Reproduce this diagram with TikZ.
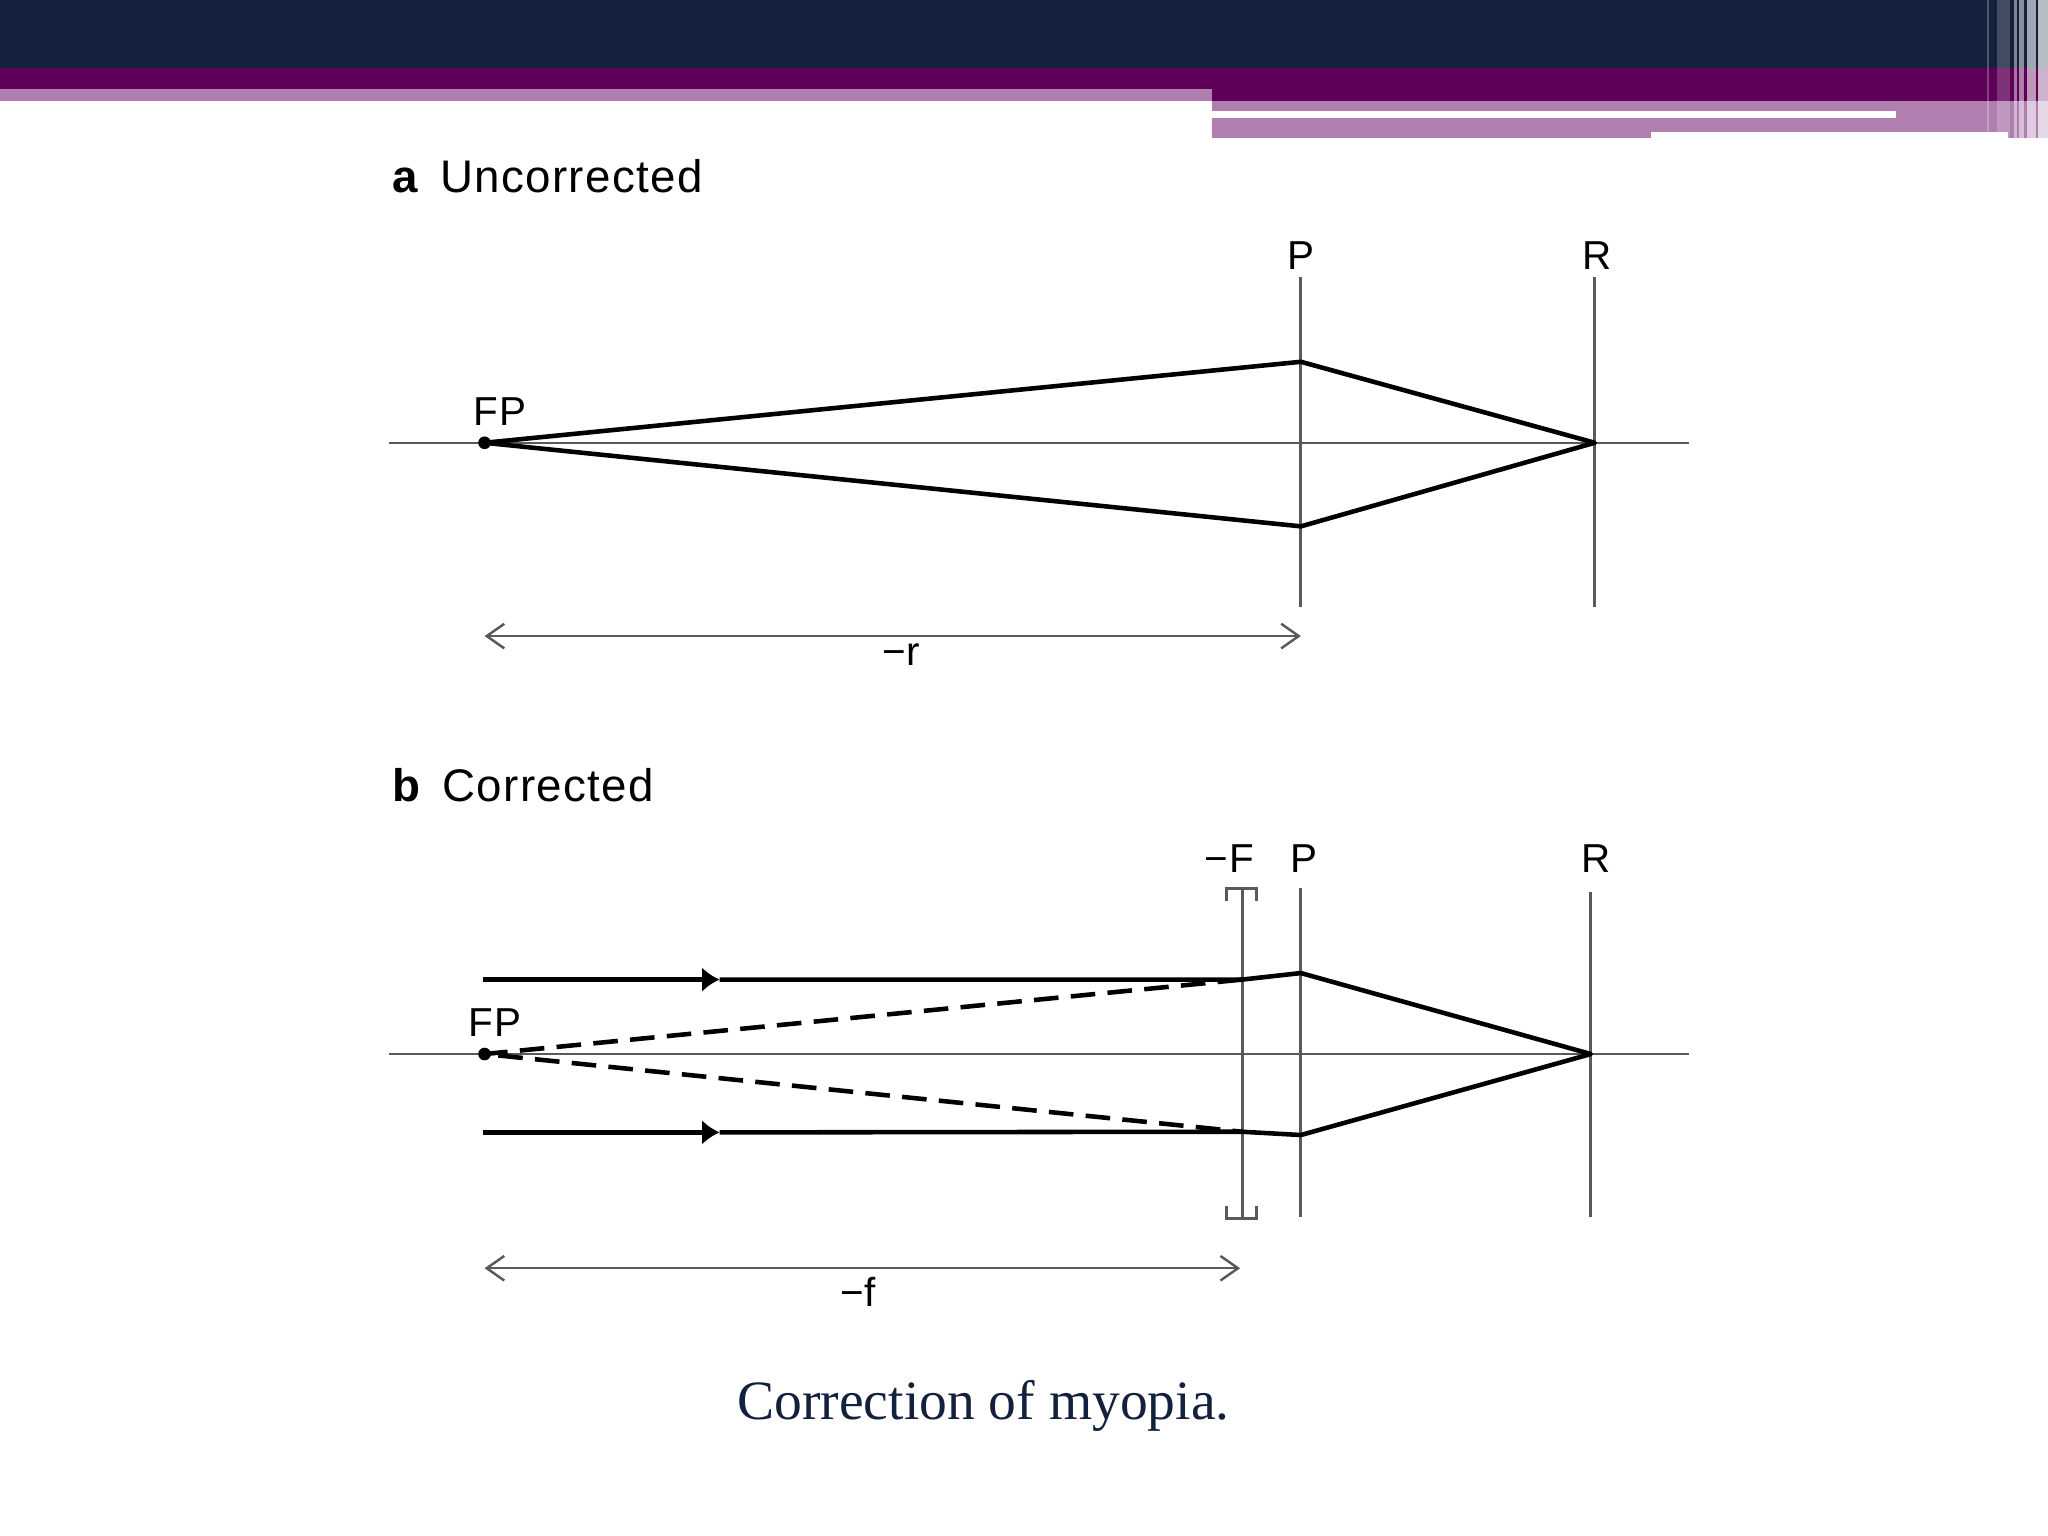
\documentclass[tikz,border=0pt]{standalone}
\usepackage{fontspec}
\setmainfont{Liberation Serif}
\newfontfamily\diagfont[LetterSpace=3]{Liberation Sans}
\usetikzlibrary{arrows.meta}

\definecolor{bannerNavy}{HTML}{13213C}
\definecolor{bannerPurple}{HTML}{5E0058}
\definecolor{bannerLilac}{HTML}{B07FB0}
\definecolor{planeGray}{HTML}{5A5A5A}

\newcommand{\rayLineWidth}{1.3}
\newcommand{\planeLineWidth}{0.9}
\newcommand{\axisLineWidth}{0.6}
\newcommand{\dimLineWidth}{0.7}
\newcommand{\posFP}{371}
\newcommand{\posLens}{951}
\newcommand{\posP}{996}
\newcommand{\posRa}{1221}
\newcommand{\posRb}{1218}
\newcommand{\axisA}{339}
\newcommand{\axisB}{807}

\tikzset{
  ray/.style={line width=\rayLineWidth, black, line join=round},
  dashray/.style={ray, dash pattern=on 7pt off 3.5pt},
  plane/.style={line width=\planeLineWidth, planeGray},
  axisline/.style={line width=\axisLineWidth, planeGray},
  dimline/.style={line width=\dimLineWidth, black!65,
    {Straight Barb[length=5pt,width=7pt]}-{Straight Barb[length=5pt,width=7pt]}},
  dot/.style={circle, fill=black, inner sep=0pt, minimum size=3.6pt},
  lbl/.style={font=\diagfont\fontsize{11.5}{13}\selectfont, inner sep=0pt},
  heading/.style={font=\diagfont\fontsize{13}{15}\selectfont, inner sep=0pt, anchor=base west},
}

\begin{document}
\begin{tikzpicture}[x=0.013061cm, y=-0.013061cm]
        \useasboundingbox (0,0) rectangle (1568,1176);

        % Banner
        \fill[bannerNavy] (0,0) rectangle (1568,52);
        \fill[bannerPurple] (0,52) rectangle (1568,77);
        \fill[bannerLilac] (0,68) rectangle (928,77);
        \fill[bannerLilac] (928,77) rectangle (1568,106);
        \fill[white] (928,85) rectangle (1452,90);
        \fill[white] (1264,101) rectangle (1537,106);
        \fill[white, opacity=0.25] (1521,0) rectangle (1523,106);
        \fill[white, opacity=0.2] (1529,0) rectangle (1539,106);
        \fill[white, opacity=0.45] (1542,0) rectangle (1544,106);
        \fill[white, opacity=0.5] (1546,0) rectangle (1550,106);
        \fill[white, opacity=0.6] (1552,0) rectangle (1559,106);
        \fill[white, opacity=0.7] (1560,0) rectangle (1568,106);

        % Uncorrected eye
        \node[heading] (headA) at (300,147.5) {\textbf{a}\hspace{0.45em}Uncorrected};
        \coordinate (axA-l) at (298,\axisA);
        \coordinate (axA-r) at (1293,\axisA);
        \draw[axisline] (axA-l) -- (axA-r);
        \node[lbl] (pA-lbl) at (\posP,196) {P};
        \node[lbl] (rA-lbl) at (\posRa+2,196) {R};
        \coordinate (pA-t) at (\posP,212);
        \coordinate (pA-b) at (\posP,465);
        \coordinate (rA-t) at (\posRa,212);
        \coordinate (rA-b) at (\posRa,465);
        \draw[plane] (pA-t) -- (pA-b);
        \draw[plane] (rA-t) -- (rA-b);
        \node[dot] (fpA) at (\posFP,\axisA) {};
        \node[lbl] (fpA-lbl) at (383,315) {FP};

        % Draw rays
        \coordinate (pA-u) at (\posP,277);
        \coordinate (pA-d) at (\posP,403);
        \coordinate (rA) at (\posRa,\axisA);
        \draw[ray] (fpA.center) -- (pA-u) -- (rA) -- (pA-d) -- cycle;

        % Far point distance
        \coordinate (dimA-l) at (\posFP,487);
        \coordinate (dimA-r) at (\posP,487);
        \draw[dimline] (dimA-l) -- (dimA-r);
        \node[lbl] (dimA-lbl) at (690,501) {−r};

        % Corrected eye
        \node[heading] (headB) at (300,614) {\textbf{b}\hspace{0.45em}Corrected};
        \coordinate (axB-l) at (298,\axisB);
        \coordinate (axB-r) at (1293,\axisB);
        \draw[axisline] (axB-l) -- (axB-r);
        \node[lbl] (lens-lbl) at (941,657.5) {−F};
        \node[lbl] (pB-lbl) at (\posP+2,657.5) {P};
        \node[lbl] (rB-lbl) at (\posRb+4,657.5) {R};
        \coordinate (pB-t) at (\posP,680);
        \coordinate (pB-b) at (\posP,932);
        \coordinate (rB-t) at (\posRb,683);
        \coordinate (rB-b) at (\posRb,932);
        \draw[plane] (pB-t) -- (pB-b);
        \draw[plane] (rB-t) -- (rB-b);

        % Concave lens
        \coordinate (lens-t) at (\posLens,680);
        \coordinate (lens-b) at (\posLens,933);
        \draw[plane] (lens-t) -- (lens-b);
        \draw[plane] (\posLens-12,690) -- (\posLens-12,680) -- (\posLens+11,680) -- (\posLens+11,690);
        \draw[plane] (\posLens-12,923) -- (\posLens-12,933) -- (\posLens+11,933) -- (\posLens+11,923);
        \node[dot] (fpB) at (\posFP,\axisB) {};
        \node[lbl] (fpB-lbl) at (379,783) {FP};

        % Draw parallel rays
        \coordinate (inU) at (370,750);
        \coordinate (arrU) at (551,750);
        \coordinate (lensU) at (\posLens,750);
        \coordinate (pB-u) at (\posP,745);
        \coordinate (rB) at (\posRb,\axisB);
        \coordinate (pB-d) at (\posP,869);
        \coordinate (lensD) at (\posLens,866.5);
        \coordinate (arrD) at (551,867);
        \coordinate (inD) at (370,867);
        \draw[ray, -{Latex[length=5pt,width=7pt]}] (inU) -- (arrU);
        \draw[ray, -{Latex[length=5pt,width=7pt]}] (inD) -- (arrD);
        \draw[ray] (arrU) -- (lensU) -- (pB-u) -- (rB) -- (pB-d) -- (lensD) -- (arrD);

        % Draw virtual rays
        \draw[dashray] (lensU) -- (fpB.center) -- (lensD);

        % Focal length
        \coordinate (dimB-l) at (\posFP,971);
        \coordinate (dimB-r) at (949.5,971);
        \draw[dimline] (dimB-l) -- (dimB-r);
        \node[lbl] (dimB-lbl) at (657,989) {−f};

        % Caption
        \node[font=\fontsize{15.8}{19}\selectfont, text=bannerNavy, anchor=base, inner sep=0pt] (caption) at (753,1087) {Correction of myopia.};
\end{tikzpicture}
\end{document}
